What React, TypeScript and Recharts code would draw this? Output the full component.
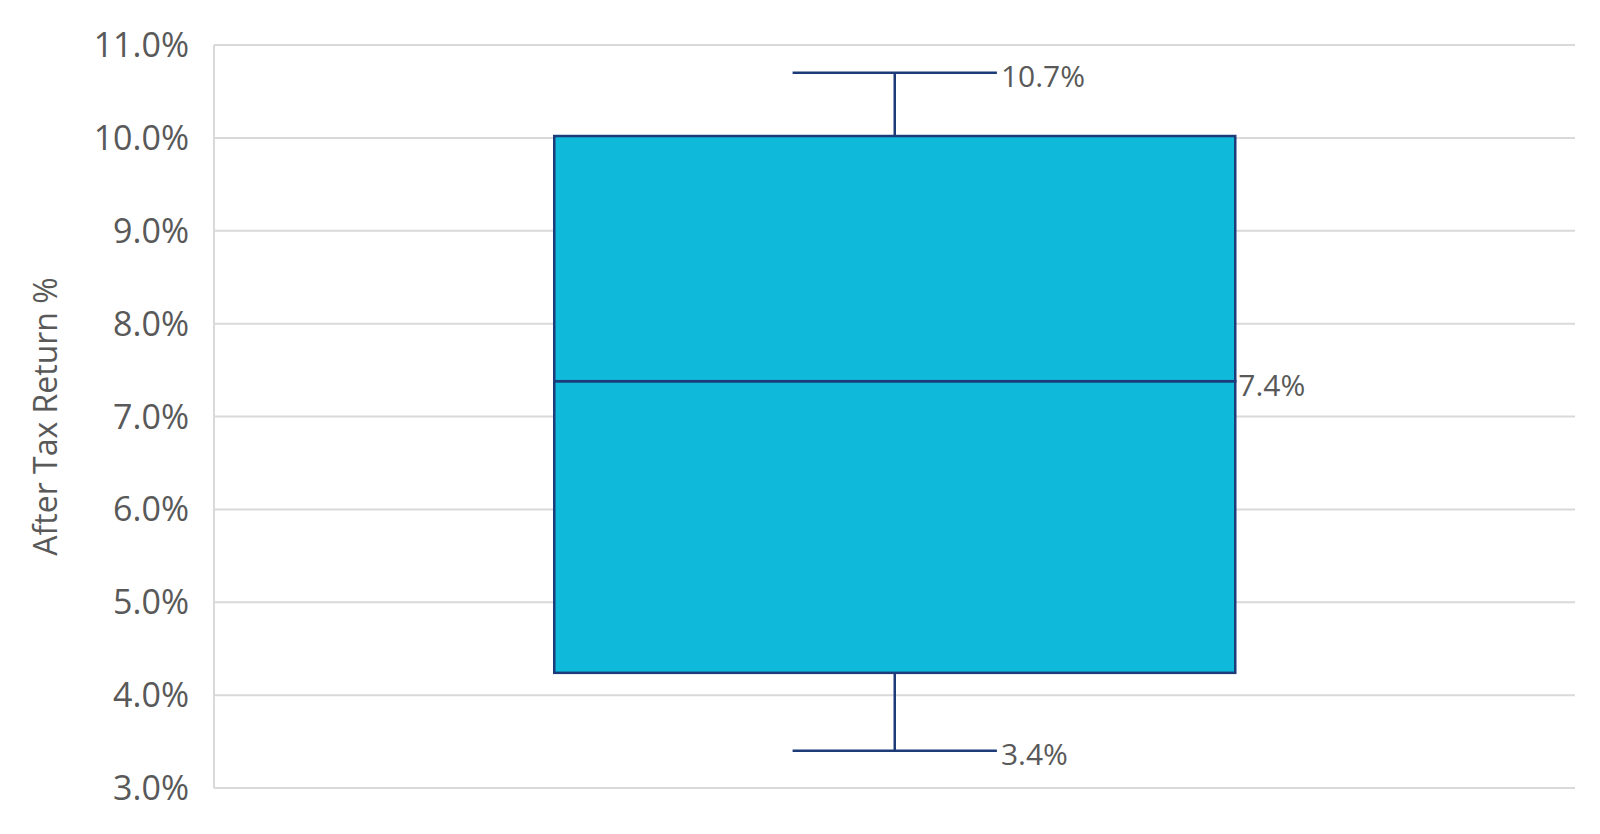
import React from "react";
import {
  ComposedChart,
  Bar,
  XAxis,
  YAxis,
  CartesianGrid,
  LabelList,
  Label,
} from "recharts";

const categories = ["After Tax Return"];
const minValues = [3.4];
const q1Values = [4.24];
const medianValues = [7.38];
const q3Values = [10.02];
const maxValues = [10.7];
const yTicks = [3, 4, 5, 6, 7, 8, 9, 10, 11];

const BOX_FILL = "#0fb9da";
const LINE = "#1c3b78";
const TEXT = "#595959";
const GRID = "#d9d9d9";
const FONT = "'Open Sans', 'Noto Sans', sans-serif";
const CAP_RATIO = 0.15;

const data = categories.map((name, i) => ({
  name,
  min: minValues[i],
  q1: q1Values[i],
  median: medianValues[i],
  q3: q3Values[i],
  max: maxValues[i],
  base: minValues[i],
  lowWhisker: q1Values[i] - minValues[i],
  lowBox: medianValues[i] - q1Values[i],
  highBox: q3Values[i] - medianValues[i],
  highWhisker: maxValues[i] - q3Values[i],
}));

const pct = (v: number) => `${Number(v).toFixed(1)}%`;

const LowWhisker = (p: any) => {
  const cx = p.x + p.width / 2;
  const half = p.width * CAP_RATIO;
  const bottom = p.y + p.height;
  return (
    <g stroke={LINE} strokeWidth={2.5}>
      <line x1={cx} y1={p.y} x2={cx} y2={bottom} />
      <line x1={cx - half} y1={bottom} x2={cx + half} y2={bottom} />
    </g>
  );
};

const HighWhisker = (p: any) => {
  const cx = p.x + p.width / 2;
  const half = p.width * CAP_RATIO;
  return (
    <g stroke={LINE} strokeWidth={2.5}>
      <line x1={cx} y1={p.y} x2={cx} y2={p.y + p.height} />
      <line x1={cx - half} y1={p.y} x2={cx + half} y2={p.y} />
    </g>
  );
};

const BoxPart = (p: any) => (
  <rect
    x={p.x}
    y={p.y}
    width={p.width}
    height={p.height}
    fill={BOX_FILL}
    stroke={LINE}
    strokeWidth={2.5}
  />
);

// where: "capTop" | "capBottom" | "boxMedian"
const valueLabel = (where: string) => (p: any) => {
  const vb = p.viewBox ?? p;
  const { x, y, width, height } = vb;
  let tx = x + width / 2 + width * CAP_RATIO + 4;
  let ty = y;
  if (where === "capBottom") ty = y + height;
  if (where === "boxMedian") {
    tx = x + width + 3;
    ty = y + height;
  }
  return (
    <text
      x={tx}
      y={ty}
      dy={3}
      fill={TEXT}
      fontSize={30}
      fontFamily={FONT}
      dominantBaseline="central"
      textAnchor="start"
    >
      {pct(p.value)}
    </text>
  );
};

const AxisTitle = (p: any) => {
  const vb = p.viewBox;
  const cy = vb.y + vb.height / 2;
  return (
    <text
      x={36.5}
      y={cy}
      transform={`rotate(-90 36.5 ${cy})`}
      textAnchor="middle"
      dominantBaseline="central"
      fill={TEXT}
      fontSize={32}
      fontFamily={FONT}
    >
      After Tax Return %
    </text>
  );
};

export default function App() {
  return (
    <div style={{ width: 1592, height: 826 }}>
      <ComposedChart
        width={1592}
        height={826}
        data={data}
        margin={{ top: 37, right: 25, bottom: 46, left: 0 }}
        barCategoryGap="25%"
      >
        <CartesianGrid
          horizontal
          vertical={false}
          stroke={GRID}
          strokeWidth={2}
        />
        <XAxis dataKey="name" hide />
        <YAxis
          width={206}
          domain={[3, 11]}
          ticks={yTicks}
          allowDataOverflow
          tickFormatter={pct}
          tickLine={false}
          tickSize={0}
          tickMargin={25}
          axisLine={{ stroke: GRID, strokeWidth: 2 }}
          tick={{ fill: TEXT, fontSize: 34, fontFamily: FONT }}
        >
          <Label content={AxisTitle} />
        </YAxis>
        <Bar dataKey="base" stackId="box" fill="none" isAnimationActive={false} />
        <Bar
          dataKey="lowWhisker"
          stackId="box"
          shape={LowWhisker}
          isAnimationActive={false}
        >
          <LabelList dataKey="min" content={valueLabel("capBottom")} />
        </Bar>
        <Bar
          dataKey="lowBox"
          stackId="box"
          shape={BoxPart}
          isAnimationActive={false}
        />
        <Bar
          dataKey="highBox"
          stackId="box"
          shape={BoxPart}
          isAnimationActive={false}
        >
          <LabelList dataKey="median" content={valueLabel("boxMedian")} />
        </Bar>
        <Bar
          dataKey="highWhisker"
          stackId="box"
          shape={HighWhisker}
          isAnimationActive={false}
        >
          <LabelList dataKey="max" content={valueLabel("capTop")} />
        </Bar>
      </ComposedChart>
    </div>
  );
}
